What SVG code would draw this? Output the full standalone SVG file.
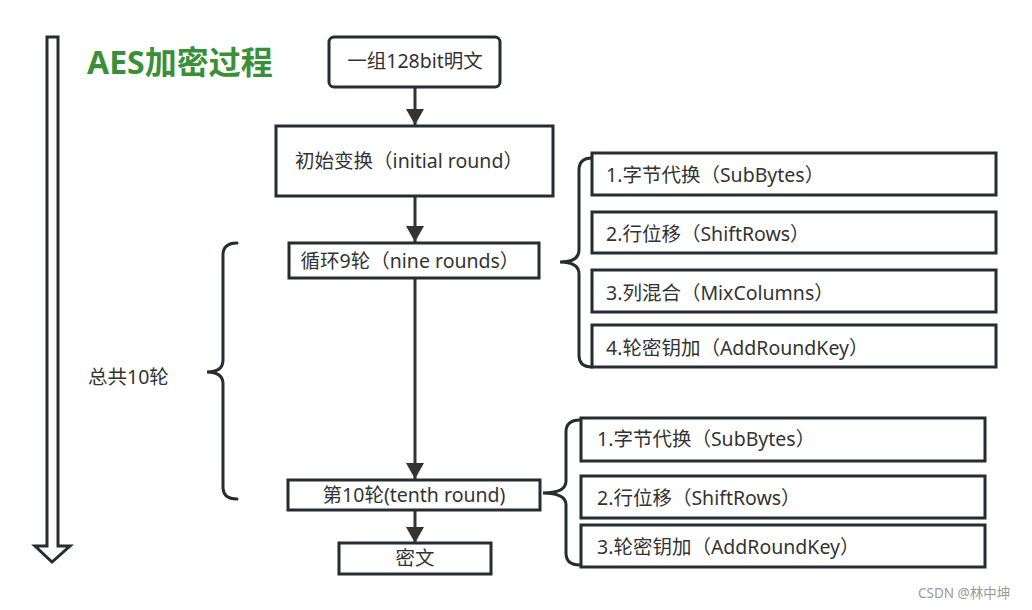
<svg xmlns="http://www.w3.org/2000/svg" width="1032" height="610" viewBox="0 0 1032 610">
<defs>
<style>
.box{fill:#fff;stroke:#262c32;stroke-width:3}
.t{font-family:"Noto Sans","Noto Sans CJK SC",sans-serif;font-size:19.5px;fill:#333}
.c{text-anchor:middle}
.br{fill:none;stroke:#262c32;stroke-width:3;stroke-linecap:round}
.con{stroke:#333;stroke-width:3;fill:none}
</style>
<marker id="ah" viewBox="0 0 16 20" refX="16" refY="10" markerWidth="16" markerHeight="20" markerUnits="userSpaceOnUse" orient="auto">
<path d="M0,1 L16,10 L0,19 Z" fill="#333"/>
</marker>
</defs>
<rect width="1032" height="610" fill="#fff"/>
<g id="bigarrow">
<path d="M47,37 H58 V546 H70 L52,562 L35,546 H47 Z" fill="#fff" stroke="#262c32" stroke-width="3" stroke-linejoin="miter"/>
</g>
<g id="title">
<text x="87" y="74" font-family="'Noto Sans','Noto Sans CJK SC',sans-serif" font-size="32" font-weight="bold" fill="#3a8f3a">AES加密过程</text>
</g>
<g id="connectors">
<line class="con" x1="415" y1="87" x2="415" y2="125" marker-end="url(#ah)"/>
<line class="con" x1="415" y1="196" x2="415" y2="242" marker-end="url(#ah)"/>
<line class="con" x1="415" y1="278" x2="415" y2="479" marker-end="url(#ah)"/>
<line class="con" x1="415" y1="510" x2="415" y2="543" marker-end="url(#ah)"/>
</g>
<g id="n1"><rect class="box" x="329" y="37" width="171" height="50" rx="5"/><text class="t c" x="415" y="68">一组128bit明文</text></g>
<g id="n2"><rect class="box" x="276" y="126" width="277" height="70"/><text class="t c" x="409" y="168">初始变换（initial round）</text></g>
<g id="n3"><rect class="box" x="289" y="243" width="250" height="35"/><text class="t c" x="410" y="268">循环9轮（nine rounds）</text></g>
<g id="n4"><rect class="box" x="288" y="480" width="252" height="30"/><text class="t c" x="414" y="502">第10轮(tenth round)</text></g>
<g id="n5"><rect class="box" x="339" y="543" width="152" height="31"/><text class="t c" x="415" y="565">密文</text></g>
<g id="brace-left"><path class="br" d="M237,243 Q223,243 223,255 V360 Q223,372 207,372 Q223,372 223,384 V487 Q223,499 237,499"/></g>
<g id="label-total"><text class="t" x="88" y="384">总共10轮</text></g>
<g id="brace-r1"><path class="br" d="M592,158 Q579,158 579,170 V250 Q579,262 560,262 Q579,262 579,274 V355 Q579,367 592,367"/></g>
<g id="r1a"><rect class="box" x="592" y="153" width="404" height="42"/><text class="t" x="606" y="182">1.字节代换（SubBytes）</text></g>
<g id="r1b"><rect class="box" x="592" y="212" width="404" height="41"/><text class="t" x="606" y="241">2.行位移（ShiftRows）</text></g>
<g id="r1c"><rect class="box" x="592" y="270" width="404" height="42"/><text class="t" x="606" y="300">3.列混合（MixColumns）</text></g>
<g id="r1d"><rect class="box" x="592" y="325" width="404" height="42"/><text class="t" x="606" y="355">4.轮密钥加（AddRoundKey）</text></g>
<g id="brace-r2"><path class="br" d="M580,420 Q566,420 566,432 V481 Q566,493 543,493 Q566,493 566,505 V553 Q566,565 580,565"/></g>
<g id="r2a"><rect class="box" x="581" y="418" width="404" height="43"/><text class="t" x="597" y="446">1.字节代换（SubBytes）</text></g>
<g id="r2b"><rect class="box" x="581" y="476" width="404" height="42"/><text class="t" x="597" y="505">2.行位移（ShiftRows）</text></g>
<g id="r2c"><rect class="box" x="581" y="525" width="404" height="42"/><text class="t" x="597" y="554">3.轮密钥加（AddRoundKey）</text></g>
<g id="watermark"><text x="918" y="598" font-family="'Noto Sans','Noto Sans CJK SC',sans-serif" font-size="13.5" fill="#999">CSDN @林中坤</text></g>
</svg>
